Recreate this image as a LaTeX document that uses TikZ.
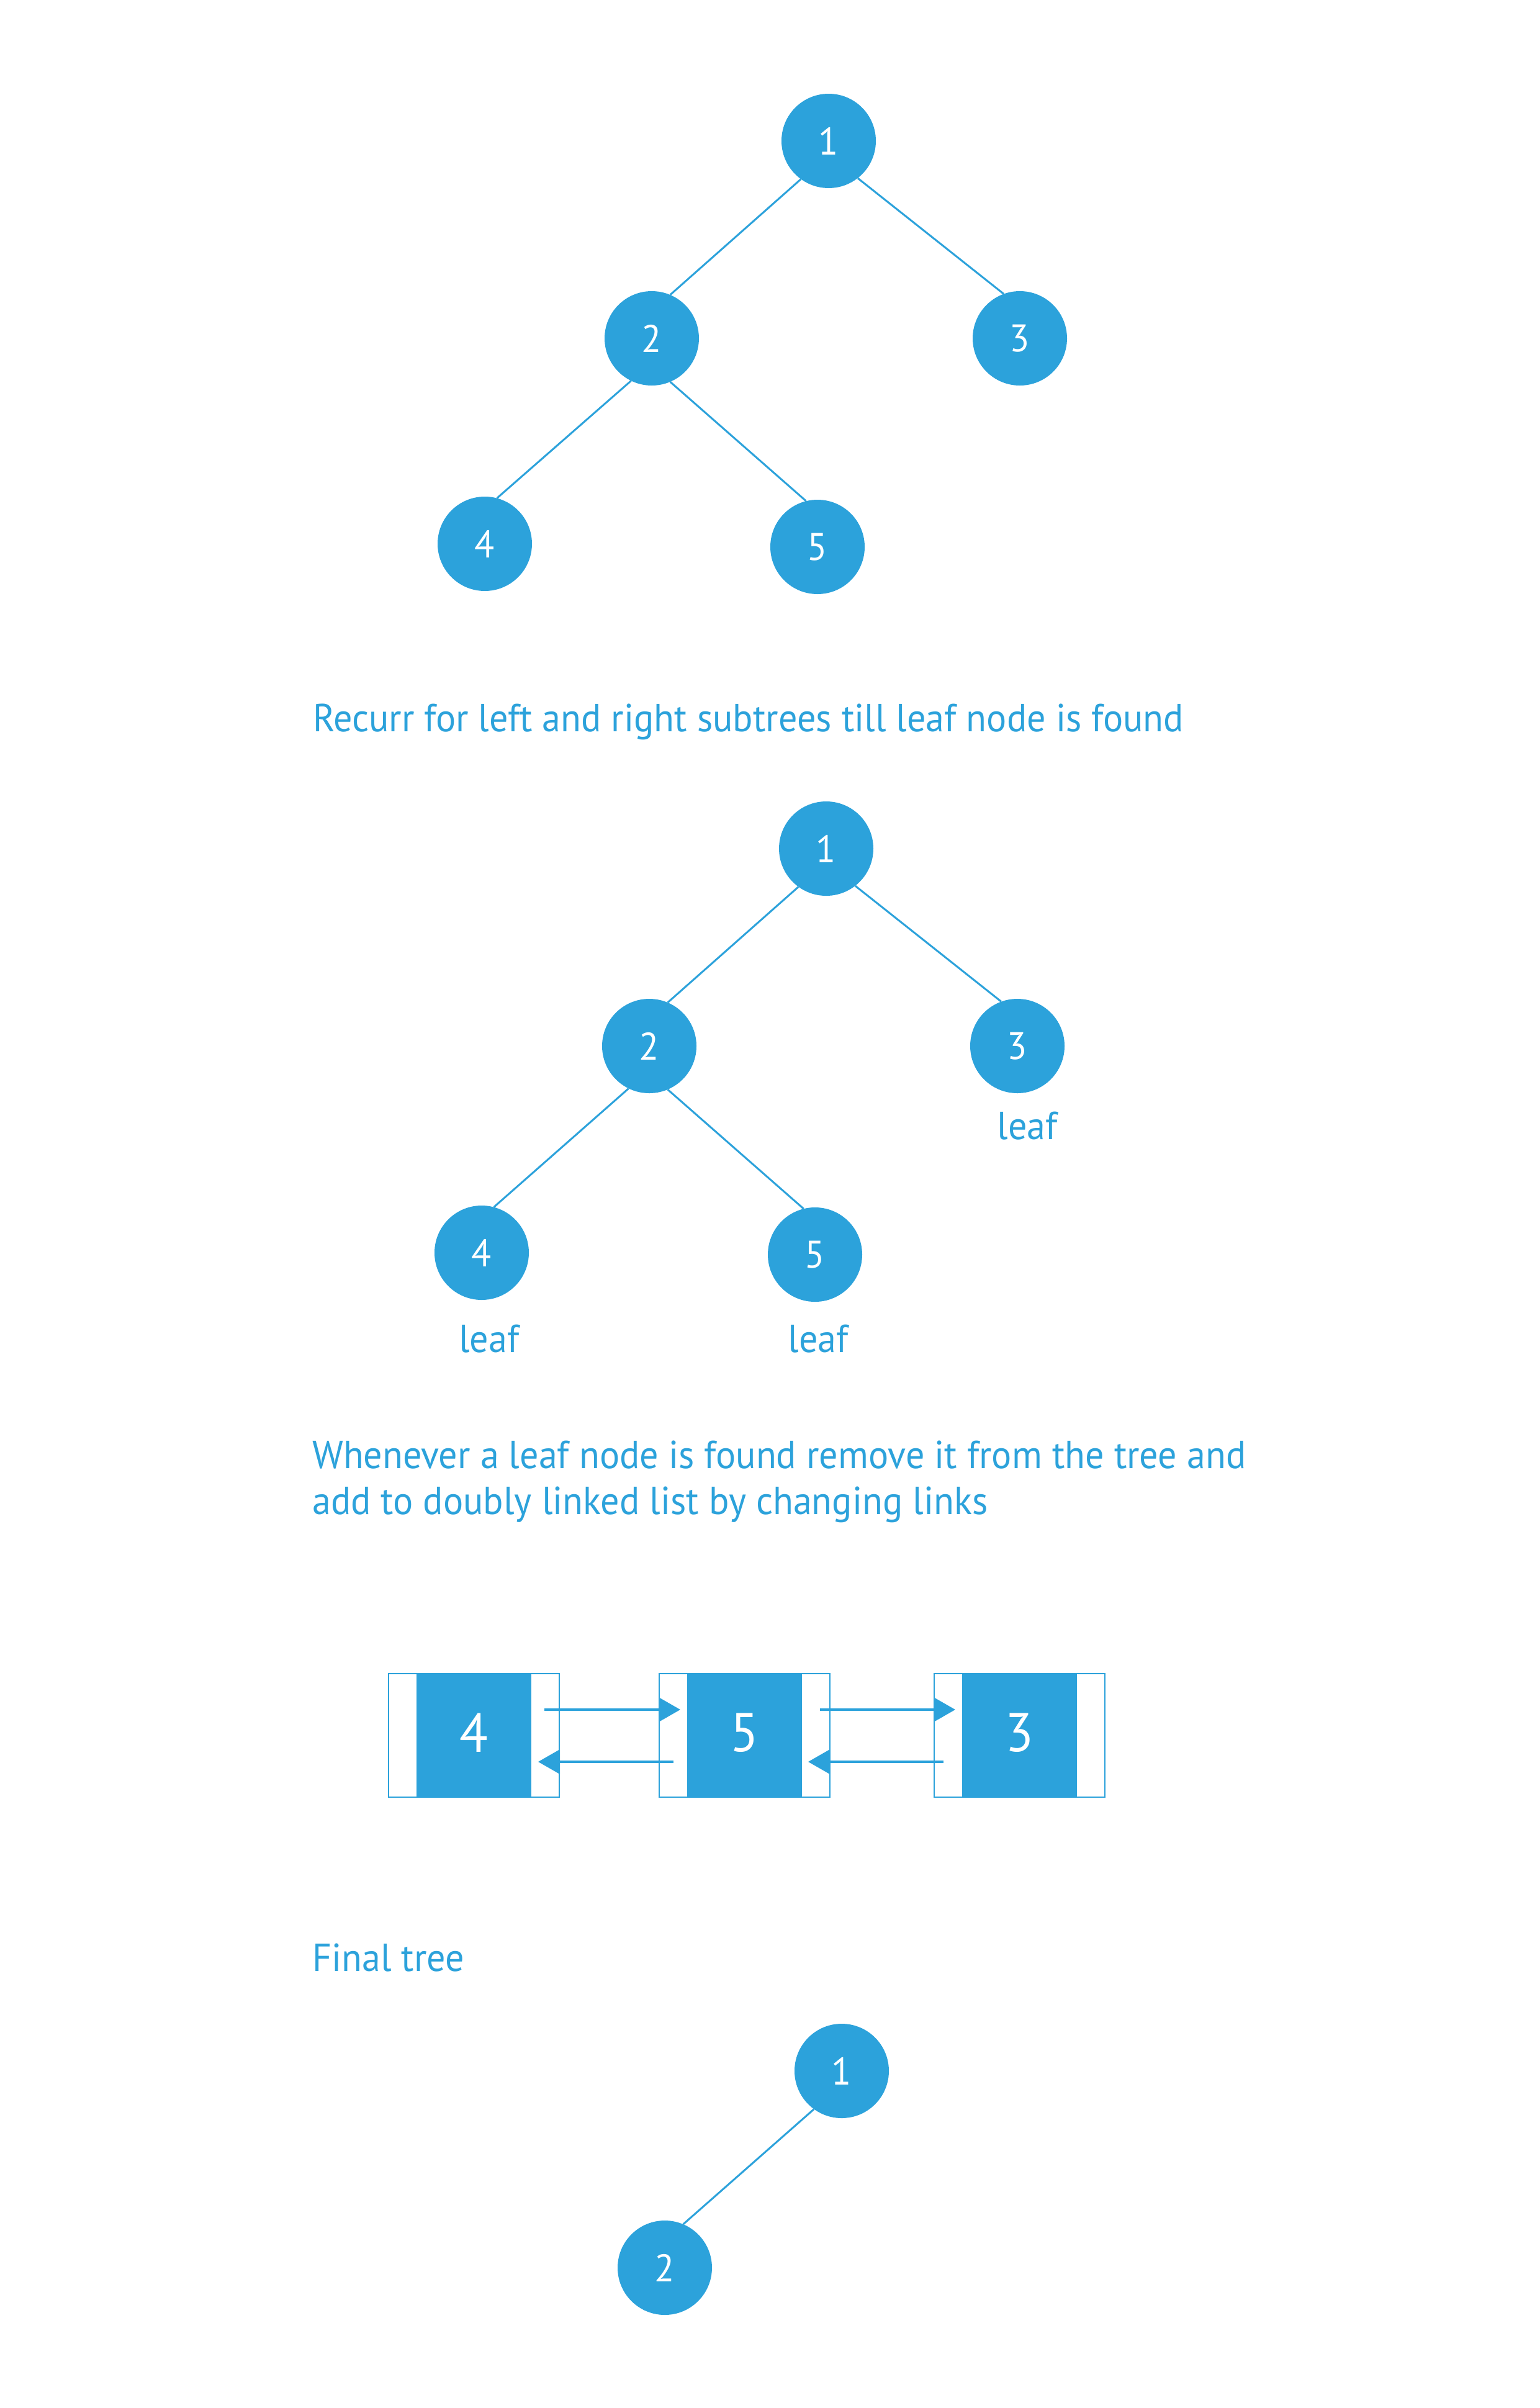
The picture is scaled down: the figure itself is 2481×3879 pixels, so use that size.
\documentclass[tikz,border=0pt]{standalone}
\usepackage{fontspec}
\setmainfont[FakeStretch=0.955]{PT Sans}
\usetikzlibrary{arrows.meta}
\definecolor{tblue}{RGB}{44,162,219}
\begin{document}
\begin{tikzpicture}[x=1pt,y=-1pt,
  tnode/.style={circle,fill=tblue,minimum size=152pt,inner sep=0pt,text=white,font=\fontsize{62}{62}\selectfont},
  tedge/.style={draw=tblue,line width=3pt},
  caption/.style={anchor=base west,inner sep=0pt,text=tblue,font=\fontsize{63}{74}\selectfont},
  leaflabel/.style={anchor=base,inner sep=0pt,text=tblue,font=\fontsize{63}{74}\selectfont},
  listbox/.style={draw=tblue,line width=2pt,fill=white,minimum width=275pt,minimum height=199pt,inner sep=0pt},
  listcore/.style={fill=tblue,minimum width=185pt,minimum height=201pt,inner sep=0pt,text=white,font=\fontsize{88}{88}\selectfont},
  link/.style={draw=tblue,line width=4pt,-{Triangle[length=35pt,width=39pt]}}
]
\fill[white] (0,0) rectangle (2481,3879);
\useasboundingbox (0,0) rectangle (2481,3879);

% tree 1
\node[tnode] (a1) at (1335,227) {1};
\node[tnode] (a2) at (1050,545) {2};
\node[tnode] (a3) at (1643,545) {3};
\node[tnode] (a4) at (781,876) {4};
\node[tnode] (a5) at (1317,881) {5};
\draw[tedge] (a1.234) -- (a2.67);
\draw[tedge] (a1.308) -- (a3.110);
\draw[tedge] (a2.244) -- (a4.75);
\draw[tedge] (a2.293) -- (a5.104);

\node[caption] (c1) at (504,1178) {Recurr for left and right subtrees till leaf node is found};

% tree 2
\node[tnode] (b1) at (1331,1367) {1};
\node[tnode] (b2) at (1046,1685) {2};
\node[tnode] (b3) at (1639,1685) {3};
\node[tnode] (b4) at (776,2018) {4};
\node[tnode] (b5) at (1313,2021) {5};
\draw[tedge] (b1.234) -- (b2.67);
\draw[tedge] (b1.308) -- (b3.110);
\draw[tedge] (b2.244) -- (b4.75);
\draw[tedge] (b2.293) -- (b5.104);
\node[leaflabel] (l3) at (1655,1835) {leaf};
\node[leaflabel] (l4) at (788,2178) {leaf};
\node[leaflabel] (l5) at (1318,2178) {leaf};

\node[caption] (c2a) at (503,2365) {Whenever a leaf node is found remove it from the tree and};
\node[caption] (c2b) at (503,2439) {add to doubly linked list by changing links};

% doubly linked list
\node[listbox] (box4) at (763.5,2795.5) {};
\node[listcore] (core4) at (763.5,2795.5) {\raisebox{9pt}{4}};
\node[listbox] (box5) at (1199.5,2795.5) {};
\node[listcore] (core5) at (1199.5,2795.5) {\raisebox{9pt}{5}};
\node[listbox] (box3) at (1642.5,2795.5) {};
\node[listcore] (core3) at (1642.5,2795.5) {\raisebox{9pt}{3}};

\coordinate (p45s) at (877,2754);
\coordinate (p45e) at (1096,2754);
\coordinate (p54s) at (1085,2838);
\coordinate (p54e) at (867,2838);
\coordinate (p53s) at (1321,2754);
\coordinate (p53e) at (1539,2754);
\coordinate (p35s) at (1520,2838);
\coordinate (p35e) at (1302,2838);
\draw[link] (p45s) -- (p45e);
\draw[link] (p54s) -- (p54e);
\draw[link] (p53s) -- (p53e);
\draw[link] (p35s) -- (p35e);

\node[caption] (c3) at (503,3175) {Final tree};

% final tree
\node[tnode] (f1) at (1356,3336) {1};
\node[tnode] (f2) at (1071,3653) {2};
\draw[tedge] (f1.234) -- (f2.67);
\end{tikzpicture}
\end{document}
